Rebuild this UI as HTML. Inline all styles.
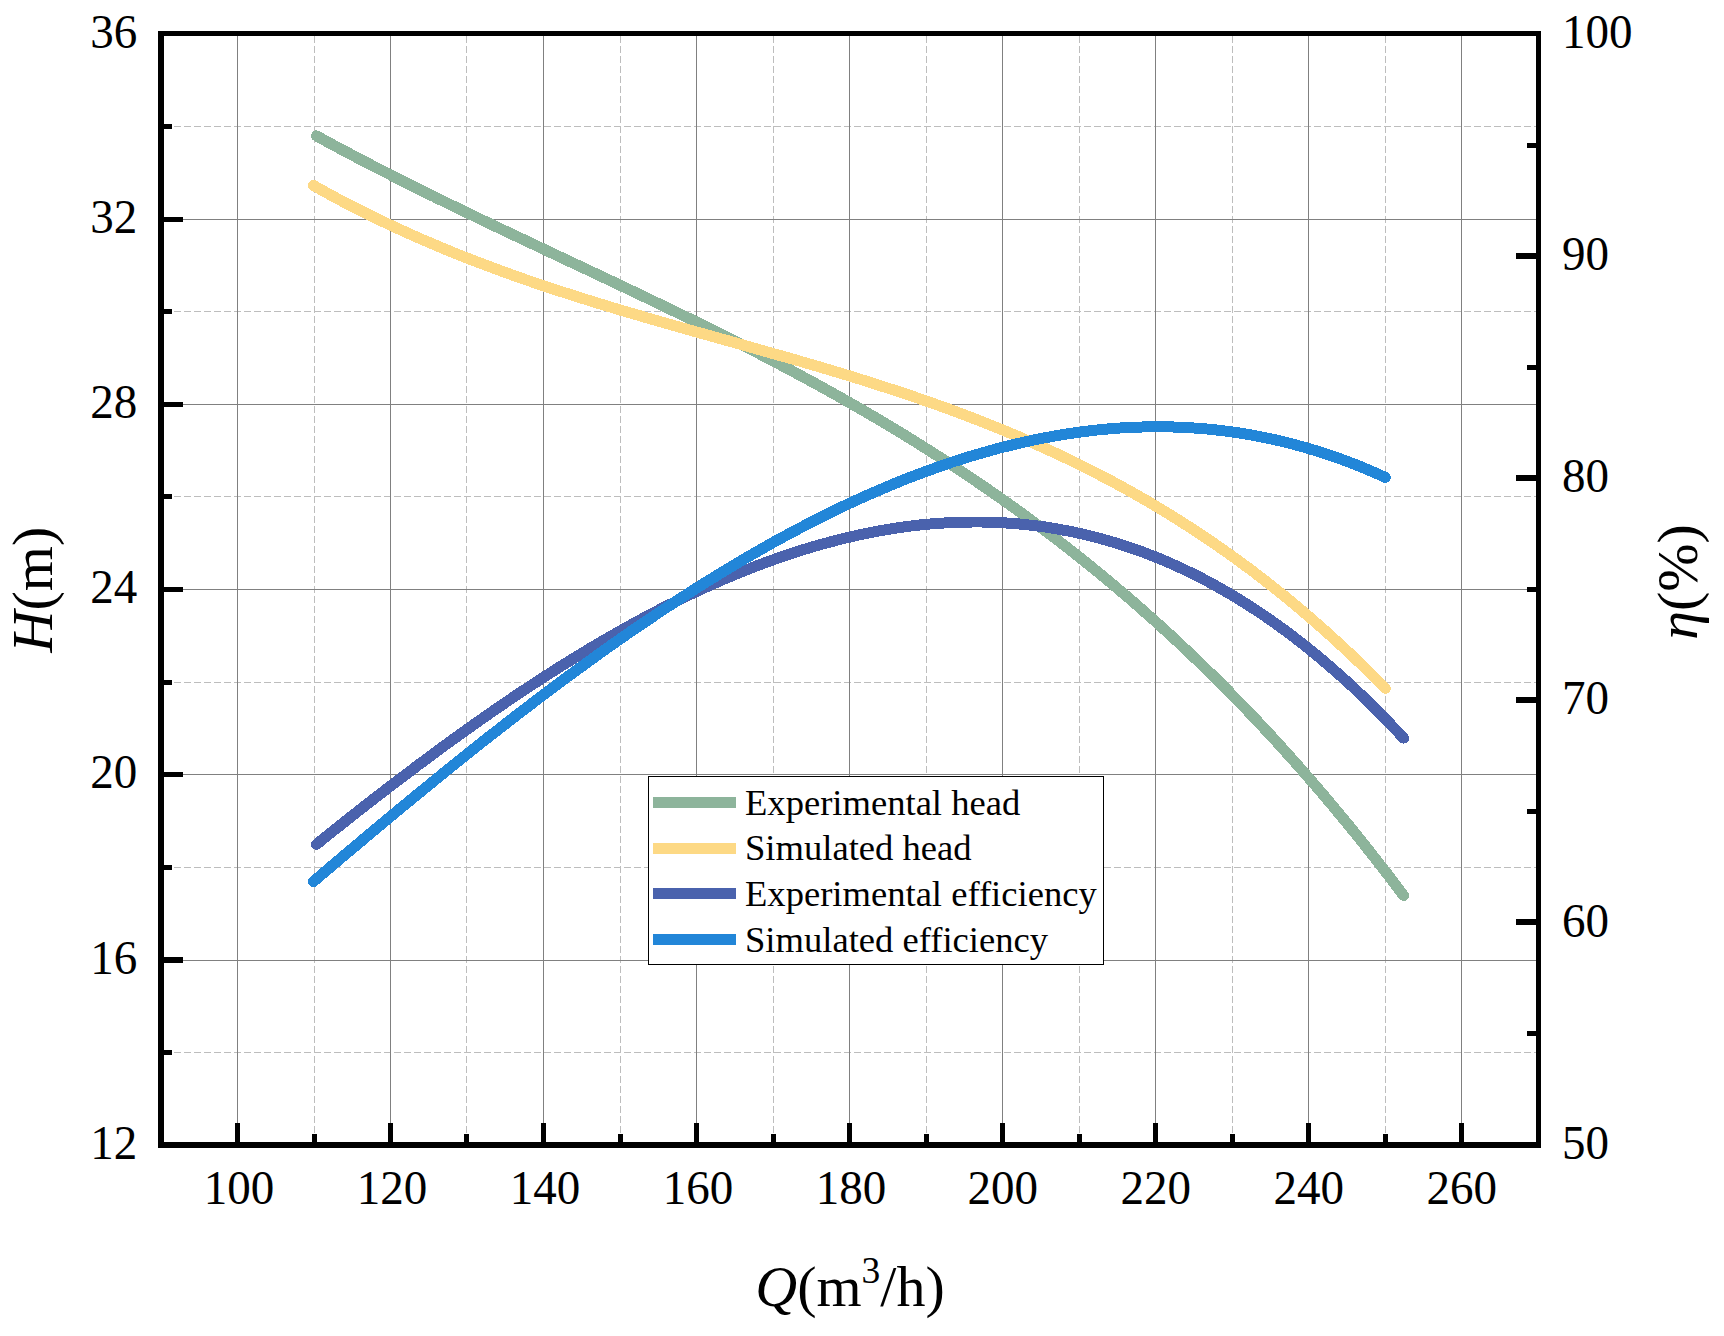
<!DOCTYPE html>
<html><head><meta charset="utf-8"><title>Pump performance curves</title>
<style>
html,body{margin:0;padding:0;background:#fff;}
body{width:1724px;height:1336px;overflow:hidden;}
svg{display:block;}
text{font-family:"Liberation Serif","Times New Roman",serif;fill:#000;}
.tk{font-size:48.5px;}
.lg{font-size:36.6px;}
.ax{font-size:58px;}
</style></head><body>
<svg width="1724" height="1336" viewBox="0 0 1724 1336">
<rect x="0" y="0" width="1724" height="1336" fill="#fff"/>

<g stroke="#bdbdbd" stroke-width="1" stroke-dasharray="6.5 3.5" fill="none" shape-rendering="crispEdges">
<line x1="314.5" y1="36" x2="314.5" y2="1142"/>
<line x1="466.5" y1="36" x2="466.5" y2="1142"/>
<line x1="620.5" y1="36" x2="620.5" y2="1142"/>
<line x1="773.5" y1="36" x2="773.5" y2="1142"/>
<line x1="926.5" y1="36" x2="926.5" y2="1142"/>
<line x1="1079.5" y1="36" x2="1079.5" y2="1142"/>
<line x1="1232.5" y1="36" x2="1232.5" y2="1142"/>
<line x1="1385.5" y1="36" x2="1385.5" y2="1142"/>
<line x1="164" y1="1052.5" x2="1536" y2="1052.5"/>
<line x1="164" y1="867.5" x2="1536" y2="867.5"/>
<line x1="164" y1="682.5" x2="1536" y2="682.5"/>
<line x1="164" y1="496.5" x2="1536" y2="496.5"/>
<line x1="164" y1="311.5" x2="1536" y2="311.5"/>
<line x1="164" y1="126.5" x2="1536" y2="126.5"/>
</g>
<g stroke="#808080" stroke-width="1" fill="none" shape-rendering="crispEdges">
<line x1="237.5" y1="36" x2="237.5" y2="1142"/>
<line x1="390.5" y1="36" x2="390.5" y2="1142"/>
<line x1="543.5" y1="36" x2="543.5" y2="1142"/>
<line x1="696.5" y1="36" x2="696.5" y2="1142"/>
<line x1="849.5" y1="36" x2="849.5" y2="1142"/>
<line x1="1002.5" y1="36" x2="1002.5" y2="1142"/>
<line x1="1155.5" y1="36" x2="1155.5" y2="1142"/>
<line x1="1308.5" y1="36" x2="1308.5" y2="1142"/>
<line x1="1461.5" y1="36" x2="1461.5" y2="1142"/>
<line x1="164" y1="960.5" x2="1536" y2="960.5"/>
<line x1="164" y1="774.5" x2="1536" y2="774.5"/>
<line x1="164" y1="589.5" x2="1536" y2="589.5"/>
<line x1="164" y1="404.5" x2="1536" y2="404.5"/>
<line x1="164" y1="219.5" x2="1536" y2="219.5"/>
</g>
<g fill="none" stroke-width="11" stroke-linecap="round" stroke-linejoin="round" shape-rendering="crispEdges">
<path d="M316.5,135.9 L324.3,140.2 L332.1,144.4 L340.0,148.6 L347.8,152.7 L355.6,156.9 L363.4,160.9 L371.2,165.0 L379.1,169.0 L386.9,173.0 L394.7,177.0 L402.5,181.0 L410.4,184.9 L418.2,188.8 L426.0,192.7 L433.8,196.5 L441.6,200.4 L449.5,204.2 L457.3,208.0 L465.1,211.8 L472.9,215.5 L480.7,219.3 L488.6,223.1 L496.4,226.8 L504.2,230.5 L512.0,234.2 L519.8,237.9 L527.7,241.6 L535.5,245.3 L543.3,249.0 L551.1,252.7 L558.9,256.4 L566.8,260.1 L574.6,263.8 L582.4,267.4 L590.2,271.1 L598.1,274.8 L605.9,278.5 L613.7,282.2 L621.5,285.9 L629.3,289.6 L637.2,293.4 L645.0,297.1 L652.8,300.9 L660.6,304.6 L668.4,308.4 L676.3,312.2 L684.1,316.0 L691.9,319.8 L699.7,323.7 L707.5,327.5 L715.4,331.4 L723.2,335.3 L731.0,339.3 L738.8,343.2 L746.6,347.2 L754.5,351.2 L762.3,355.3 L770.1,359.4 L777.9,363.5 L785.8,367.6 L793.6,371.8 L801.4,376.0 L809.2,380.2 L817.0,384.5 L824.9,388.8 L832.7,393.1 L840.5,397.5 L848.3,402.0 L856.1,406.4 L864.0,410.9 L871.8,415.5 L879.6,420.1 L887.4,424.8 L895.2,429.5 L903.1,434.2 L910.9,439.0 L918.7,443.9 L926.5,448.8 L934.3,453.8 L942.2,458.8 L950.0,463.9 L957.8,469.0 L965.6,474.2 L973.5,479.5 L981.3,484.8 L989.1,490.2 L996.9,495.6 L1004.7,501.1 L1012.6,506.7 L1020.4,512.3 L1028.2,518.0 L1036.0,523.8 L1043.8,529.6 L1051.7,535.6 L1059.5,541.6 L1067.3,547.6 L1075.1,553.8 L1082.9,560.0 L1090.8,566.3 L1098.6,572.7 L1106.4,579.1 L1114.2,585.7 L1122.0,592.3 L1129.9,599.0 L1137.7,605.8 L1145.5,612.7 L1153.3,619.6 L1161.2,626.7 L1169.0,633.8 L1176.8,641.0 L1184.6,648.4 L1192.4,655.8 L1200.3,663.3 L1208.1,670.9 L1215.9,678.6 L1223.7,686.4 L1231.5,694.3 L1239.4,702.3 L1247.2,710.4 L1255.0,718.6 L1262.8,726.9 L1270.6,735.3 L1278.5,743.9 L1286.3,752.5 L1294.1,761.2 L1301.9,770.1 L1309.7,779.0 L1317.6,788.1 L1325.4,797.3 L1333.2,806.5 L1341.0,816.0 L1348.9,825.5 L1356.7,835.1 L1364.5,844.9 L1372.3,854.8 L1380.1,864.8 L1388.0,874.9 L1395.8,885.2 L1403.6,895.5" stroke="#8db49b"/>
<path d="M313.5,185.5 L321.2,189.8 L328.9,194.0 L336.6,198.2 L344.3,202.3 L352.1,206.3 L359.8,210.2 L367.5,214.1 L375.2,217.9 L382.9,221.6 L390.6,225.2 L398.3,228.8 L406.0,232.3 L413.7,235.8 L421.5,239.2 L429.2,242.5 L436.9,245.8 L444.6,249.0 L452.3,252.2 L460.0,255.3 L467.7,258.3 L475.4,261.3 L483.1,264.2 L490.8,267.1 L498.6,270.0 L506.3,272.8 L514.0,275.6 L521.7,278.3 L529.4,281.0 L537.1,283.6 L544.8,286.2 L552.5,288.8 L560.2,291.3 L568.0,293.8 L575.7,296.2 L583.4,298.7 L591.1,301.1 L598.8,303.5 L606.5,305.8 L614.2,308.2 L621.9,310.5 L629.6,312.7 L637.4,315.0 L645.1,317.3 L652.8,319.5 L660.5,321.7 L668.2,323.9 L675.9,326.1 L683.6,328.3 L691.3,330.5 L699.0,332.7 L706.8,334.8 L714.5,337.0 L722.2,339.2 L729.9,341.3 L737.6,343.5 L745.3,345.7 L753.0,347.8 L760.7,350.0 L768.4,352.2 L776.1,354.4 L783.9,356.6 L791.6,358.8 L799.3,361.0 L807.0,363.3 L814.7,365.5 L822.4,367.8 L830.1,370.1 L837.8,372.4 L845.5,374.7 L853.3,377.1 L861.0,379.5 L868.7,381.9 L876.4,384.4 L884.1,386.9 L891.8,389.4 L899.5,391.9 L907.2,394.5 L914.9,397.1 L922.7,399.8 L930.4,402.5 L938.1,405.2 L945.8,408.0 L953.5,410.8 L961.2,413.7 L968.9,416.6 L976.6,419.6 L984.3,422.6 L992.0,425.7 L999.8,428.8 L1007.5,432.0 L1015.2,435.2 L1022.9,438.5 L1030.6,441.9 L1038.3,445.3 L1046.0,448.8 L1053.7,452.3 L1061.4,455.9 L1069.2,459.6 L1076.9,463.4 L1084.6,467.2 L1092.3,471.1 L1100.0,475.1 L1107.7,479.1 L1115.4,483.2 L1123.1,487.4 L1130.8,491.7 L1138.6,496.1 L1146.3,500.5 L1154.0,505.0 L1161.7,509.7 L1169.4,514.4 L1177.1,519.2 L1184.8,524.1 L1192.5,529.0 L1200.2,534.1 L1208.0,539.3 L1215.7,544.6 L1223.4,549.9 L1231.1,555.4 L1238.8,561.0 L1246.5,566.6 L1254.2,572.4 L1261.9,578.3 L1269.6,584.3 L1277.3,590.4 L1285.1,596.6 L1292.8,603.0 L1300.5,609.4 L1308.2,616.0 L1315.9,622.7 L1323.6,629.4 L1331.3,636.4 L1339.0,643.4 L1346.7,650.6 L1354.5,657.9 L1362.2,665.3 L1369.9,672.8 L1377.6,680.5 L1385.3,688.3" stroke="#fdd985"/>
<path d="M316.5,844.3 L324.3,838.0 L332.1,831.7 L340.0,825.5 L347.8,819.3 L355.6,813.1 L363.4,807.0 L371.2,800.9 L379.1,794.9 L386.9,788.8 L394.7,782.8 L402.5,776.9 L410.4,771.0 L418.2,765.1 L426.0,759.3 L433.8,753.5 L441.6,747.7 L449.5,742.0 L457.3,736.4 L465.1,730.8 L472.9,725.2 L480.7,719.7 L488.6,714.2 L496.4,708.8 L504.2,703.5 L512.0,698.1 L519.8,692.9 L527.7,687.7 L535.5,682.6 L543.3,677.5 L551.1,672.5 L558.9,667.5 L566.8,662.6 L574.6,657.8 L582.4,653.0 L590.2,648.3 L598.1,643.7 L605.9,639.1 L613.7,634.6 L621.5,630.2 L629.3,625.8 L637.2,621.6 L645.0,617.3 L652.8,613.2 L660.6,609.1 L668.4,605.2 L676.3,601.3 L684.1,597.4 L691.9,593.7 L699.7,590.0 L707.5,586.4 L715.4,582.9 L723.2,579.5 L731.0,576.2 L738.8,572.9 L746.6,569.8 L754.5,566.7 L762.3,563.8 L770.1,560.9 L777.9,558.1 L785.8,555.4 L793.6,552.8 L801.4,550.3 L809.2,547.9 L817.0,545.6 L824.9,543.4 L832.7,541.3 L840.5,539.3 L848.3,537.4 L856.1,535.6 L864.0,533.9 L871.8,532.3 L879.6,530.8 L887.4,529.5 L895.2,528.2 L903.1,527.1 L910.9,526.0 L918.7,525.1 L926.5,524.3 L934.3,523.6 L942.2,523.1 L950.0,522.6 L957.8,522.3 L965.6,522.1 L973.5,522.0 L981.3,522.0 L989.1,522.2 L996.9,522.4 L1004.7,522.9 L1012.6,523.4 L1020.4,524.1 L1028.2,524.9 L1036.0,525.8 L1043.8,526.8 L1051.7,528.0 L1059.5,529.4 L1067.3,530.8 L1075.1,532.4 L1082.9,534.1 L1090.8,536.0 L1098.6,538.0 L1106.4,540.2 L1114.2,542.5 L1122.0,544.9 L1129.9,547.5 L1137.7,550.2 L1145.5,553.1 L1153.3,556.1 L1161.2,559.3 L1169.0,562.7 L1176.8,566.1 L1184.6,569.8 L1192.4,573.5 L1200.3,577.5 L1208.1,581.6 L1215.9,585.8 L1223.7,590.3 L1231.5,594.8 L1239.4,599.6 L1247.2,604.5 L1255.0,609.5 L1262.8,614.7 L1270.6,620.1 L1278.5,625.7 L1286.3,631.4 L1294.1,637.3 L1301.9,643.3 L1309.7,649.6 L1317.6,656.0 L1325.4,662.6 L1333.2,669.3 L1341.0,676.2 L1348.9,683.3 L1356.7,690.6 L1364.5,698.1 L1372.3,705.7 L1380.1,713.6 L1388.0,721.6 L1395.8,729.8 L1403.6,738.1" stroke="#4a62ad"/>
<path d="M313.5,881.5 L321.2,874.9 L328.9,868.4 L336.6,861.8 L344.3,855.3 L352.1,848.8 L359.8,842.3 L367.5,835.8 L375.2,829.4 L382.9,822.9 L390.6,816.5 L398.3,810.1 L406.0,803.8 L413.7,797.4 L421.5,791.1 L429.2,784.8 L436.9,778.5 L444.6,772.2 L452.3,766.0 L460.0,759.8 L467.7,753.7 L475.4,747.5 L483.1,741.4 L490.8,735.3 L498.6,729.3 L506.3,723.3 L514.0,717.3 L521.7,711.4 L529.4,705.5 L537.1,699.6 L544.8,693.8 L552.5,688.0 L560.2,682.3 L568.0,676.5 L575.7,670.9 L583.4,665.3 L591.1,659.7 L598.8,654.1 L606.5,648.6 L614.2,643.2 L621.9,637.8 L629.6,632.4 L637.4,627.1 L645.1,621.9 L652.8,616.7 L660.5,611.5 L668.2,606.4 L675.9,601.4 L683.6,596.4 L691.3,591.4 L699.0,586.5 L706.8,581.7 L714.5,576.9 L722.2,572.2 L729.9,567.5 L737.6,562.9 L745.3,558.4 L753.0,553.9 L760.7,549.5 L768.4,545.1 L776.1,540.8 L783.9,536.6 L791.6,532.5 L799.3,528.4 L807.0,524.3 L814.7,520.4 L822.4,516.5 L830.1,512.7 L837.8,508.9 L845.5,505.2 L853.3,501.6 L861.0,498.1 L868.7,494.6 L876.4,491.3 L884.1,488.0 L891.8,484.7 L899.5,481.6 L907.2,478.5 L914.9,475.5 L922.7,472.6 L930.4,469.8 L938.1,467.0 L945.8,464.3 L953.5,461.7 L961.2,459.2 L968.9,456.8 L976.6,454.5 L984.3,452.3 L992.0,450.1 L999.8,448.0 L1007.5,446.1 L1015.2,444.2 L1022.9,442.4 L1030.6,440.7 L1038.3,439.1 L1046.0,437.6 L1053.7,436.2 L1061.4,434.8 L1069.2,433.6 L1076.9,432.5 L1084.6,431.5 L1092.3,430.5 L1100.0,429.7 L1107.7,429.0 L1115.4,428.3 L1123.1,427.8 L1130.8,427.4 L1138.6,427.1 L1146.3,426.9 L1154.0,426.8 L1161.7,426.8 L1169.4,426.9 L1177.1,427.1 L1184.8,427.4 L1192.5,427.9 L1200.2,428.4 L1208.0,429.1 L1215.7,429.9 L1223.4,430.8 L1231.1,431.8 L1238.8,432.9 L1246.5,434.1 L1254.2,435.5 L1261.9,437.0 L1269.6,438.6 L1277.3,440.3 L1285.1,442.1 L1292.8,444.1 L1300.5,446.2 L1308.2,448.4 L1315.9,450.7 L1323.6,453.1 L1331.3,455.7 L1339.0,458.4 L1346.7,461.3 L1354.5,464.2 L1362.2,467.3 L1369.9,470.6 L1377.6,473.9 L1385.3,477.4" stroke="#2286d8"/>
</g>
<g fill="#000">
<rect x="235" y="1123" width="5" height="20"/>
<rect x="388" y="1123" width="5" height="20"/>
<rect x="541" y="1123" width="5" height="20"/>
<rect x="694" y="1123" width="5" height="20"/>
<rect x="847" y="1123" width="5" height="20"/>
<rect x="1000" y="1123" width="5" height="20"/>
<rect x="1153" y="1123" width="5" height="20"/>
<rect x="1306" y="1123" width="5" height="20"/>
<rect x="1459" y="1123" width="5" height="20"/>
<rect x="312" y="1134" width="5" height="9"/>
<rect x="464" y="1134" width="5" height="9"/>
<rect x="618" y="1134" width="5" height="9"/>
<rect x="771" y="1134" width="5" height="9"/>
<rect x="924" y="1134" width="5" height="9"/>
<rect x="1077" y="1134" width="5" height="9"/>
<rect x="1230" y="1134" width="5" height="9"/>
<rect x="1383" y="1134" width="5" height="9"/>
<rect x="163" y="957" width="20" height="6"/>
<rect x="163" y="772" width="20" height="5"/>
<rect x="163" y="587" width="20" height="5"/>
<rect x="163" y="402" width="20" height="5"/>
<rect x="163" y="217" width="20" height="5"/>
<rect x="163" y="1050" width="9" height="5"/>
<rect x="163" y="865" width="9" height="5"/>
<rect x="163" y="680" width="9" height="5"/>
<rect x="163" y="494" width="9" height="5"/>
<rect x="163" y="309" width="9" height="5"/>
<rect x="163" y="124" width="9" height="5"/>
<rect x="1516" y="919" width="21" height="6"/>
<rect x="1516" y="697" width="21" height="6"/>
<rect x="1516" y="475" width="21" height="6"/>
<rect x="1516" y="253" width="21" height="6"/>
<rect x="1527" y="1031" width="10" height="5"/>
<rect x="1527" y="809" width="10" height="5"/>
<rect x="1527" y="587" width="10" height="5"/>
<rect x="1527" y="365" width="10" height="5"/>
<rect x="1527" y="143" width="10" height="5"/>
<rect x="158" y="31" width="6" height="1117"/>
<rect x="158" y="1142" width="1383" height="6"/>
<rect x="158" y="31" width="1383" height="5"/>
<rect x="1536" y="31" width="5" height="1117"/>
</g>
<g class="tk">
<text transform="translate(239.0,1204.3) scale(0.97,1)" text-anchor="middle">100</text>
<text transform="translate(392.0,1204.3) scale(0.97,1)" text-anchor="middle">120</text>
<text transform="translate(545.0,1204.3) scale(0.97,1)" text-anchor="middle">140</text>
<text transform="translate(698.0,1204.3) scale(0.97,1)" text-anchor="middle">160</text>
<text transform="translate(851.0,1204.3) scale(0.97,1)" text-anchor="middle">180</text>
<text transform="translate(1002.7,1204.3) scale(0.97,1)" text-anchor="middle">200</text>
<text transform="translate(1155.7,1204.3) scale(0.97,1)" text-anchor="middle">220</text>
<text transform="translate(1308.7,1204.3) scale(0.97,1)" text-anchor="middle">240</text>
<text transform="translate(1461.7,1204.3) scale(0.97,1)" text-anchor="middle">260</text>
<text transform="translate(137.3,1159.2) scale(0.97,1)" text-anchor="end">12</text>
<text transform="translate(137.3,974.1) scale(0.97,1)" text-anchor="end">16</text>
<text transform="translate(137.3,788.1) scale(0.97,1)" text-anchor="end">20</text>
<text transform="translate(137.3,603.1) scale(0.97,1)" text-anchor="end">24</text>
<text transform="translate(137.3,418.1) scale(0.97,1)" text-anchor="end">28</text>
<text transform="translate(137.3,233.1) scale(0.97,1)" text-anchor="end">32</text>
<text transform="translate(137.3,48.0) scale(0.97,1)" text-anchor="end">36</text>
<text transform="translate(1562,1158.8) scale(0.97,1)" text-anchor="start">50</text>
<text transform="translate(1562,936.6) scale(0.97,1)" text-anchor="start">60</text>
<text transform="translate(1562,714.3) scale(0.97,1)" text-anchor="start">70</text>
<text transform="translate(1562,492.1) scale(0.97,1)" text-anchor="start">80</text>
<text transform="translate(1562,269.8) scale(0.97,1)" text-anchor="start">90</text>
<text transform="translate(1562,47.6) scale(0.97,1)" text-anchor="start">100</text>
</g>
<text class="ax" x="850" y="1306" text-anchor="middle"><tspan font-style="italic">Q</tspan>(m<tspan font-size="37.5px" dy="-23">3</tspan><tspan dy="23">/h)</tspan></text>
<text class="ax" transform="translate(52.3,589.6) rotate(-90)" text-anchor="middle"><tspan font-style="italic">H</tspan>(m)</text>
<text class="ax" transform="translate(1697,582) rotate(-90)" text-anchor="middle"><tspan font-style="italic">η</tspan>(%)</text>
<rect x="648.5" y="776.5" width="455" height="188" fill="#fff" stroke="#000" stroke-width="1"/>
<rect x="653" y="797" width="83" height="11" fill="#8db49b"/>
<text class="lg" x="745" y="814.7">Experimental head</text>
<rect x="653" y="843" width="83" height="11" fill="#fdd985"/>
<text class="lg" x="745" y="860.3">Simulated head</text>
<rect x="653" y="888" width="83" height="11" fill="#4a62ad"/>
<text class="lg" x="745" y="906.0">Experimental efficiency</text>
<rect x="653" y="934" width="83" height="11" fill="#2286d8"/>
<text class="lg" x="745" y="951.6">Simulated efficiency</text>
</svg></body></html>
